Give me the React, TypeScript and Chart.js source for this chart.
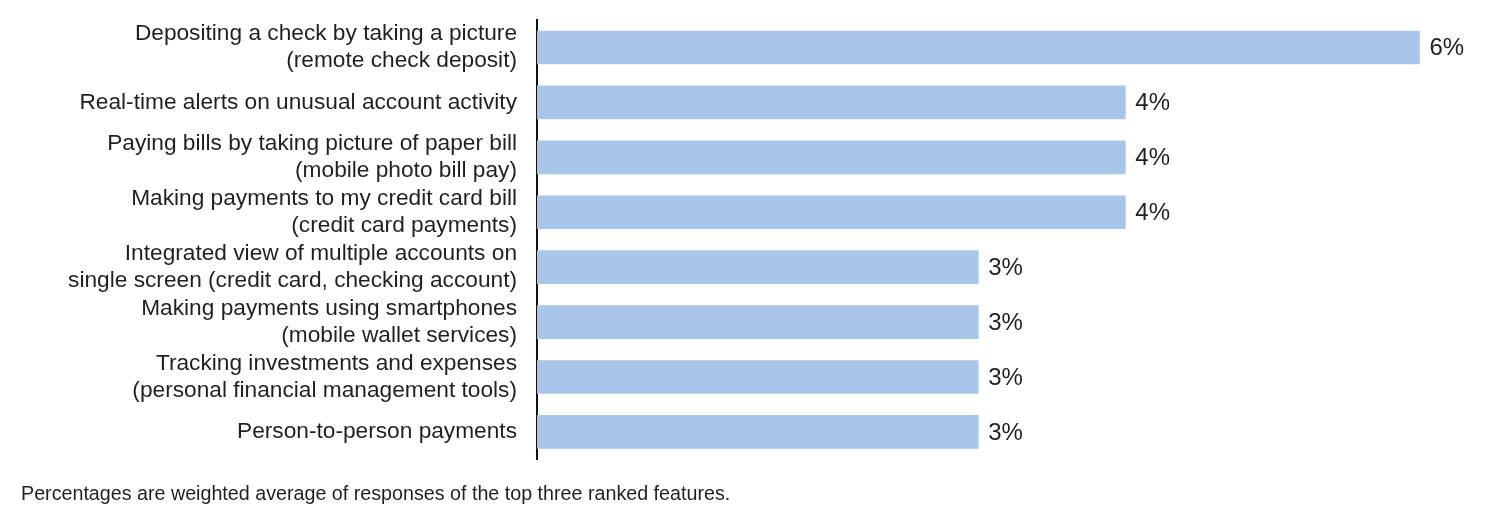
import React, { useEffect, useRef } from "react";
import { Chart, registerables } from "chart.js";

Chart.register(...registerables);

const categories: (string | string[])[] = [
  ["Depositing a check by taking a picture", "(remote check deposit)"],
  "Real-time alerts on unusual account activity",
  ["Paying bills by taking picture of paper bill", "(mobile photo bill pay)"],
  ["Making payments to my credit card bill", "(credit card payments)"],
  ["Integrated view of multiple accounts on", "single screen (credit card, checking account)"],
  ["Making payments using smartphones", "(mobile wallet services)"],
  ["Tracking investments and expenses", "(personal financial management tools)"],
  "Person-to-person payments",
];
const values: number[] = [6, 4, 4, 4, 3, 3, 3, 3];
const valueLabels: string[] = values.map((v) => `${v}%`);
const footnote = "Percentages are weighted average of responses of the top three ranked features.";

const FONT = "'Liberation Sans', Arial, Helvetica, sans-serif";
const TEXT = "#231f20";
const BAR = "#aac5ea";

const valueLabelPlugin = {
  id: "valueLabels",
  afterDatasetsDraw(chart: any) {
    const ctx = chart.ctx;
    const meta = chart.getDatasetMeta(0);
    ctx.save();
    ctx.font = `24px ${FONT}`;
    ctx.fillStyle = TEXT;
    ctx.textAlign = "left";
    ctx.textBaseline = "middle";
    meta.data.forEach((bar: any, i: number) => {
      ctx.fillText(valueLabels[i], bar.x + 10, bar.y + 1);
    });
    ctx.restore();
  },
};

export default function App() {
  const ref = useRef<HTMLCanvasElement | null>(null);
  useEffect(() => {
    if (!ref.current) return;
    const chart = new Chart(ref.current, {
      type: "bar",
      data: {
        labels: categories,
        datasets: [
          {
            data: values,
            backgroundColor: BAR,
            borderWidth: 0,
            barThickness: 33,
          },
        ],
      },
      options: {
        indexAxis: "y",
        animation: false,
        responsive: false,
        maintainAspectRatio: false,
        layout: { padding: { left: 21, right: 7, top: 20, bottom: 0 } },
        plugins: {
          legend: { display: false },
          tooltip: { enabled: false },
          title: {
            display: true,
            text: footnote,
            position: "bottom",
            align: "start",
            color: TEXT,
            font: { family: FONT, size: 19.7, weight: "normal", lineHeight: 1.2 },
            padding: { top: 23, bottom: 7 },
          },
        },
        scales: {
          x: {
            display: false,
            min: 0,
            max: 6.5,
          },
          y: {
            grid: { display: false, drawTicks: false },
            border: { display: true, color: "#111", width: 2 },
            ticks: {
              color: TEXT,
              padding: 20,
              autoSkip: false,
              font: { family: FONT, size: 22.7, lineHeight: 1.18 },
            },
            afterFit(scale: any) {
              scale.width = 516;
              scale.paddingTop = 0;
              scale.paddingBottom = 0;
            },
          },
        },
      },
      plugins: [valueLabelPlugin],
    });
    return () => chart.destroy();
  }, []);

  return (
    <div style={{ position: "fixed", left: 0, top: 0, width: 1500, height: 513, background: "#fff" }}>
      <canvas ref={ref} width={1500} height={513} style={{ width: 1500, height: 513, display: "block" }} />
    </div>
  );
}
